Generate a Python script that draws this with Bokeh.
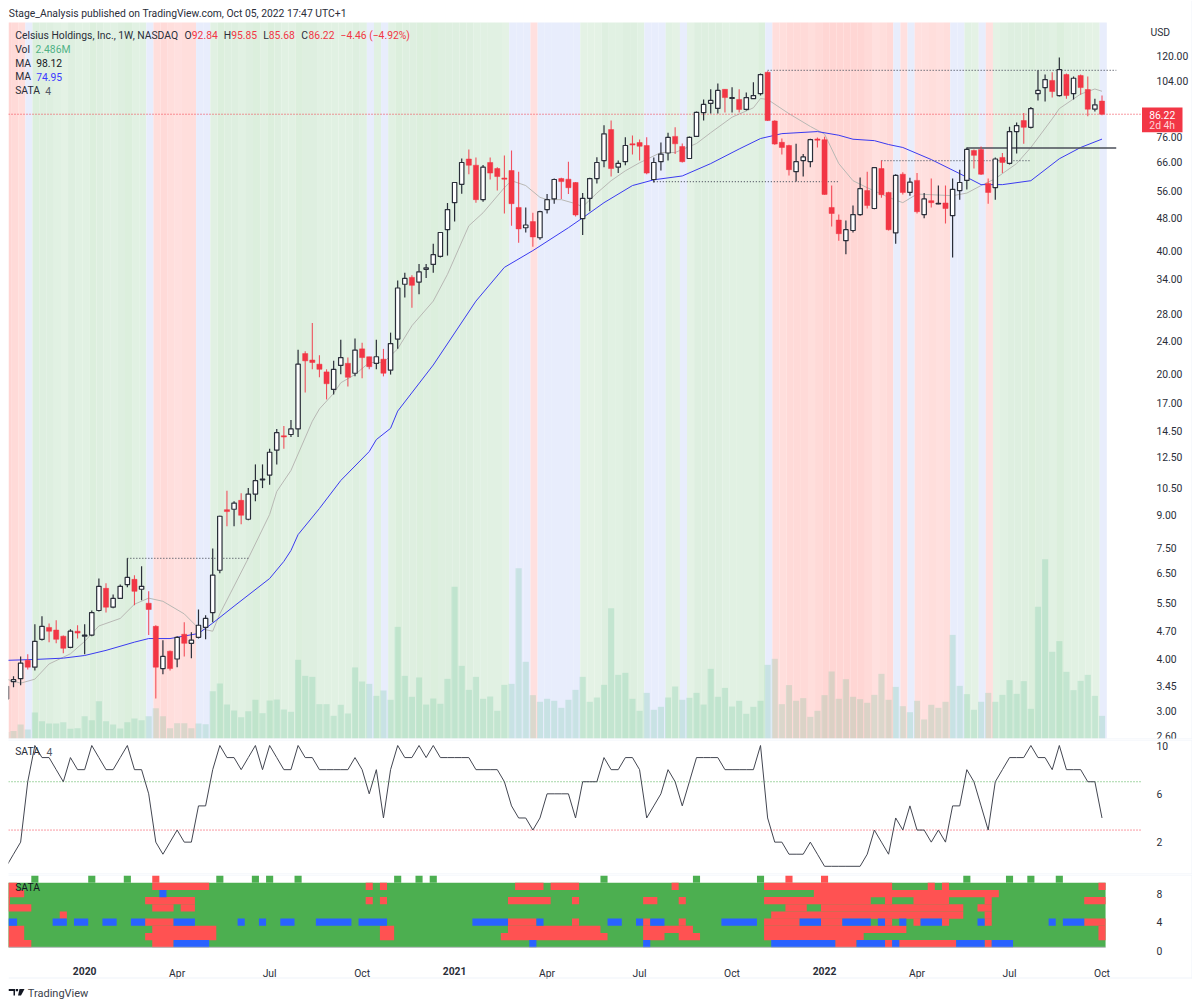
from bokeh.embed import file_html
from bokeh.resources import INLINE
from bokeh.layouts import column
from bokeh.plotting import figure
from bokeh.models import (Range1d, LinearScale, LinearAxis, FixedTicker, PrintfTickFormatter, Label,
                          BoxAnnotation, PolyAnnotation)

# ---------- chart values ----------
opens = [3.20,3.53,3.59,3.98,3.83,4.48,4.79,4.72,4.56,4.28,
 4.69,4.56,4.59,5.27,5.97,5.37,5.64,6.10,6.28,5.94,
 5.49,4.82,3.80,4.19,4.01,4.61,4.38,4.53,4.79,5.21,
 6.61,9.30,9.32,9.80,8.81,10.15,11.0,11.3,13.0,14.1,
 14.2,14.65,22.4,21.6,21.1,20.2,18.3,20.95,21.2,20.05,
 23.0,22.0,21.2,21.7,20.4,24.3,33.1,34.4,33.5,36.0,
 37.0,38.7,45.0,52.4,58.1,67.0,64.7,53.3,65.7,63.5,
 60.2,62.8,51.0,45.5,47.1,43.0,50.4,53.5,60.0,59.8,
 58.7,47.9,53.7,60.0,66.4,79.1,64.0,66.0,73.0,73.5,
 72.3,59.7,66.0,69.3,76.1,71.9,67.2,76.1,87.0,91.7,
 89.1,99.2,94.2,93.7,88.6,94.1,96.8,109.2,83.0,73.6,
 72.3,62.4,66.4,66.0,75.0,74.7,51.0,47.5,42.3,44.8,
 49.0,56.1,50.7,63.5,55.5,44.2,61.5,55.5,59.4,49.0,
 53.0,52.0,52.3,48.7,56.1,59.4,70.3,70.7,58.4,57.0,
 67.6,65.4,78.2,83.2,80.1,96.8,100.2,104.3,95.8,107.8,
 96.8,107.2,99.1,88.7,92.84]
highs = [3.53,3.64,4.07,4.12,4.88,5.10,4.90,4.99,4.58,4.74,
 4.85,4.88,5.27,6.31,6.14,5.77,6.10,7.07,6.43,6.76,
 5.87,4.85,4.46,4.21,4.56,4.93,4.66,5.30,5.13,7.47,
 8.98,10.35,9.75,10.2,10.5,12.0,12.0,13.1,14.65,14.9,
 15.4,22.9,22.7,26.6,22.2,20.5,21.5,24.2,21.9,24.4,
 23.8,22.0,24.2,23.0,25.2,33.8,35.3,34.8,37.1,37.1,
 41.6,44.4,52.3,58.9,67.2,70.7,67.6,64.8,67.6,64.0,
 68.3,70.3,62.4,51.0,49.5,50.1,55.0,60.0,60.3,66.0,
 58.9,55.3,60.3,67.7,81.0,83.2,66.4,75.7,76.5,74.8,
 75.7,67.6,73.5,77.7,80.1,73.1,76.1,87.6,93.7,99.2,
 102.5,99.3,100.4,99.2,97.5,103.2,108.4,109.8,83.4,75.2,
 72.6,73.0,68.9,75.1,75.6,75.9,57.7,49.0,47.4,51.6,
 60.4,62.4,64.0,66.4,55.7,61.5,62.2,60.3,61.9,55.3,
 60.0,57.7,57.7,60.0,63.1,71.5,70.7,71.9,60.0,67.6,
 69.3,80.3,82.3,86.8,89.8,110.4,107.8,109.2,118.7,108.4,
 106.7,107.8,106.7,94.1,95.85]
lows = [3.16,3.42,3.46,3.78,3.76,4.45,4.41,4.38,4.14,4.26,
 4.50,4.12,4.56,5.24,5.21,5.34,5.62,6.01,5.43,5.58,
 4.59,3.21,3.68,3.76,3.83,4.07,4.03,4.50,4.48,4.93,
 6.50,8.47,8.47,8.56,8.76,9.75,10.5,10.7,12.0,13.1,
 14.0,14.0,18.0,20.5,19.6,17.3,17.8,19.95,18.6,19.7,
 19.5,20.5,20.5,19.7,19.9,23.0,30.7,29.0,31.3,34.3,
 35.3,38.5,38.9,47.1,55.1,61.5,52.4,52.7,59.7,56.1,
 49.3,46.0,41.8,44.3,40.9,42.5,49.3,52.1,53.5,55.0,
 48.5,43.7,49.9,58.4,64.0,60.7,61.9,64.7,68.7,66.4,
 61.5,58.7,62.8,66.4,68.9,65.7,67.0,76.1,83.2,86.6,
 86.6,87.1,87.1,87.1,88.1,94.0,95.8,83.0,72.6,68.7,
 61.1,59.0,60.7,64.0,71.5,54.8,45.8,42.3,39.2,44.3,
 48.7,50.7,50.5,53.9,44.8,41.6,54.9,54.5,49.3,48.0,
 51.0,51.9,46.6,38.5,53.3,56.4,63.5,61.2,52.1,53.3,
 61.9,65.0,69.1,73.0,79.6,93.2,92.6,94.7,95.3,94.1,
 93.7,96.2,85.3,87.6,85.68]
closes = [3.44,3.57,3.92,3.83,4.43,4.82,4.69,4.48,4.26,4.69,
 4.64,4.59,5.21,6.04,5.37,5.64,6.04,6.35,5.87,6.04,
 5.30,3.83,4.07,3.80,4.53,4.38,4.46,4.85,5.04,6.43,
 8.96,9.20,9.65,9.01,10.15,10.95,11.05,12.85,14.35,14.0,
 14.65,21.1,21.5,21.3,20.5,18.9,20.5,21.9,19.6,22.85,
 21.9,20.8,22.0,20.05,23.7,32.4,34.2,32.9,35.5,36.3,
 39.1,44.3,50.4,58.7,65.7,64.7,53.3,64.0,61.9,60.7,
 59.8,52.1,45.2,46.2,43.2,49.8,53.3,59.7,59.0,57.0,
 48.9,53.7,60.0,65.7,77.2,63.5,65.4,72.3,72.5,72.0,
 61.9,65.7,68.9,75.7,73.0,66.0,75.7,87.1,91.1,93.2,
 98.6,94.7,94.7,88.6,94.7,95.8,107.8,83.2,72.9,71.5,
 63.1,66.0,67.8,74.7,74.5,54.9,49.3,44.0,45.0,49.0,
 56.7,51.6,63.8,54.8,45.0,61.1,55.5,58.8,49.8,53.5,
 52.4,52.2,50.7,56.5,58.7,70.7,68.4,61.5,55.5,67.0,
 65.7,78.2,80.9,80.1,89.0,98.6,104.8,98.0,110.9,95.8,
 105.6,100.2,88.7,90.9,86.22]
volumes = [0.70,0.81,1.54,0.99,2.85,1.90,1.65,1.65,1.79,1.06,
 1.13,2.45,2.01,4.10,1.90,1.54,1.10,1.79,2.20,2.01,
 2.45,3.33,2.45,1.13,1.68,1.68,1.13,1.65,1.57,5.20,
 6.04,3.73,3.07,2.34,3.00,4.25,2.78,4.17,4.28,3.18,
 2.93,8.64,6.88,6.77,3.77,3.77,2.49,3.70,2.75,7.80,
 6.26,6.00,4.68,5.27,4.25,12.26,6.88,4.58,6.70,3.73,
 4.39,3.81,6.55,16.65,7.98,5.34,6.77,4.36,4.61,3.04,
 5.89,6.00,18.70,8.42,4.76,4.03,4.36,4.14,3.37,4.25,
 5.34,6.77,4.03,4.50,5.89,14.31,6.99,7.21,4.36,3.04,
 5.01,3.15,3.48,4.50,5.71,4.25,4.47,5.01,3.73,7.65,
 4.58,5.56,3.51,4.14,2.71,3.48,4.14,8.09,8.75,3.77,
 5.86,4.14,4.43,2.38,3.04,4.76,7.36,4.36,6.51,4.58,
 4.32,3.92,4.79,7.10,4.25,5.67,3.55,2.89,4.14,2.09,
 3.70,3.37,4.03,11.38,5.78,4.87,3.15,4.03,5.01,4.03,
 4.79,6.41,4.90,6.30,3.26,14.46,19.69,9.52,10.69,7.32,
 5.31,6.33,6.99,4.68,2.486]
sata = [0,1,2,7,10,9,9,8,7,9, 8,8,10,9,8,8,9,10,8,8,
 6,2,1,2,3,2,2,5,5,8, 10,9,9,8,9,10,8,10,9,8,
 8,10,9,9,8,8,8,8,8,9, 8,6,8,4,8,10,9,9,10,9,
 10,9,9,9,9,9,8,8,8,8, 7,5,4,4,3,4,6,6,6,6,
 4,7,7,7,9,8,8,9,9,8, 4,5,6,8,7,5,7,9,9,9,
 9,8,8,8,8,8,10,4,2,2, 1,1,1,2,1,0,0,0,0,0,
 0,1,3,2,1,4,3,5,3,3, 2,3,2,5,5,8,7,5,3,7,
 8,9,9,9,10,9,9,8,10,8, 8,8,7,7,4]

ma10_bars = [0,2,4,6,9,11,13,16,18,20,22,25,27,29,30,34,37,38,40,43,44,46,47,49,51,53,55,57,60,62,65,67,70,71,73,75,76,78,80,81,83,85,87,89,92,94,97,99,102,105,106,107,110,113,115,117,119,121,122,124,126,128,131,133,135,137,139,142,144,147,148,151,153,154]
ma10_vals = [3.58,3.50,3.58,3.90,4.13,4.43,4.83,5.04,5.46,5.65,5.55,5.17,4.77,4.69,5.17,7.07,9.05,10.3,11.6,15.3,16.4,17.9,19.0,19.9,21.3,21.3,23.0,26.2,30.1,35.0,46.0,49.5,57.0,59.3,57.7,54.0,53.3,53.3,52.1,51.2,55.3,59.3,62.7,65.6,69.5,69.5,73.1,77.7,84.8,89.4,94.2,93.7,86.5,80.5,77.1,65.3,59.3,57.0,56.0,54.0,52.4,55.0,54.7,54.5,55.3,57.7,60.0,65.3,71.5,84.0,89.0,96.6,99.4,98.12]
ma30_bars = [0,4,8,11,14,18,20,23,27,29,32,37,39,40,41,44,47,51,52,54,55,60,66,70,74,79,81,84,88,91,95,99,103,106,109,114,117,119,122,124,126,130,134,137,140,144,148,151,154]
ma30_vals = [3.98,4.00,4.03,4.09,4.21,4.41,4.50,4.50,4.63,4.91,5.40,6.31,6.95,7.39,8.08,9.36,10.96,12.9,13.8,14.7,16.2,21.0,30.1,36.4,40.0,45.5,48.1,52.4,57.7,59.6,60.9,65.3,70.9,75.2,77.3,78.2,76.6,74.9,74.3,72.7,71.5,66.8,61.7,58.0,58.0,59.3,67.1,71.5,74.95]

# stage background: (stage, number of bars)
stage_runs = [("R",3),("B",1),("G",16),("B",1),("R",6),("B",2),("G",22),("B",1),("G",1),("B",1),
              ("G",17),("B",3),("R",1),("B",6),("G",9),("B",3),("G",2),("B",1),("G",11),("B",1),
              ("R",17),("B",1),("R",1),("B",1),("R",5),("B",2),("G",2),("B",1),("R",1),("G",15),("B",1)]

# drawn horizontal levels: (first bar, last bar, price)
dotted_levels = [(17,34,7.07),(107,156,110.4),(91,117,59.0),(123,144,66.4)]
solid_levels = [(135,156,71.3)]
last_close = 86.22

# SATA rows: inclusive bar runs per condition row
row10_green = [4,12,17,30,35,37,41,55,58,60,84,97,106,135,141,144,148]
row10_red = [21,110,115]
rows_red = {
 9:[(0,1),(21,28),(51,51),(53,53),(72,75),(77,80),(94,94),(107,124),(130,130),(132,132),(154,154)],
 8:[(0,2),(114,139)],
 7:[(0,0),(20,26),(51,51),(53,53),(71,76),(80,80),(90,91),(95,95),(107,121),(124,124),(128,132),(138,138),(152,154)],
 6:[(0,3),(21,23),(25,26),(110,112),(115,134),(137,138)],
 5:[(8,8),(108,134),(138,138)],
 4:[(20,23),(71,74),(80,80),(90,90),(95,95),(107,111),(115,117),(124,124),(128,128),(132,132),(138,138),(152,154)],
 3:[(0,2),(21,29),(53,54),(71,83),(90,96),(107,126),(154,154)],
 2:[(0,2),(20,29),(53,54),(70,84),(90,92),(95,97),(107,120),(154,154)],
 1:[(0,3),(21,23),(117,119),(124,124),(126,133),(138,138)],
}
rows_blue = {
 8:[(22,22)],
 4:[(0,1),(7,8),(10,11),(14,15),(18,19),(24,26),(33,33),(36,36),(39,40),(44,48),(50,53),(66,70),(75,75),(85,86),(89,89),(91,92),(101,105),(112,114),(118,121),(123,123),(126,126),(129,131),(137,137),(147,147),(149,151)],
 1:[(24,28),(74,74),(90,90),(108,116),(120,123),(125,125),(134,137),(139,141)],
}

price_ticks = [2.6,3,3.45,4,4.7,5.5,6.5,7.5,9,10.5,12.5,14.5,17,20,24,28,34,40,48,56,66,76,104,120]
sata_ticks = [2,6,10]
rows_ticks = [0,4,8]
month_ticks = {24:"Apr",37:"Jul",50:"Oct",76:"Apr",89:"Jul",102:"Oct",128:"Apr",141:"Jul",154:"Oct"}
year_ticks = {11:"2020",63:"2021",115:"2022"}

# ---------- styling ----------
FONT = "Roboto"
FS = 10.35
INK = "#2a2e39"
UP_LINE = "#2a2e39"
RED = "#f23645"
GREEN = "#4caf50"
SATA_RED = "#ff5252"
SATA_BLUE = "#2962ff"
SEP = "#f0f3fa"
W = 1192
X_RANGE = (0.295, 166.72)   # the frame holds the price scale as well
SCALE_X = 159.54            # where the price scale starts
PANE_END = 154.5

bars = list(range(len(closes)))
stage = [s for s, n in stage_runs for _ in range(n)]

def band_color(s, v):
    if s == "B":
        return "#e8edfc"
    if s == "R":
        return {0:"#ffd6d4",1:"#ffdad8",2:"#ffdedc",3:"#ffe0df"}.get(v, "#ffe3e2")
    return {10:"#dcefdd",9:"#deefe0",8:"#e1f1e3",7:"#e4f2e5"}.get(v, "#e6f3e7")

def style_axis(ax, standoff, style="normal"):
    ax.axis_line_color = None
    ax.major_tick_line_color = None
    ax.minor_tick_line_color = None
    ax.major_label_text_font = FONT
    ax.major_label_text_font_size = f"{FS}px"
    ax.major_label_text_font_style = style
    ax.major_label_text_color = INK
    ax.major_label_standoff = standoff

def make_fig(height, y_range, **kw):
    p = figure(width=W, height=height, x_range=Range1d(*X_RANGE), y_range=y_range,
               output_backend="svg", toolbar_location=None, y_axis_location="right",
               min_border_left=8, min_border_right=0, min_border_top=0, min_border_bottom=0, **kw)
    p.outline_line_color = None
    p.grid.visible = False
    p.xaxis.visible = False
    p.yaxis[0].fixed_location = SCALE_X
    style_axis(p.yaxis[0], 9)
    return p

def txt(p, x, y, text, color=INK, size=FS, style="normal", align="left", level="annotation"):
    p.add_layout(Label(x=x, y=y, x_units="canvas", y_units="canvas", text=text, text_color=color,
                       text_font=FONT, text_font_size=f"{size}px", text_font_style=style,
                       text_align=align, text_baseline="middle", level=level))

def rule(p, left, right, top, bottom, color=SEP):
    p.add_layout(BoxAnnotation(left=left, right=right, top=top, bottom=bottom, left_units="canvas",
                               right_units="canvas", top_units="canvas", bottom_units="canvas",
                               fill_color=color, fill_alpha=1, line_color=None, level="overlay"))

# ---------- price pane ----------
P_LOW, P_HIGH = 2.563, 144.5
p1 = make_fig(739, Range1d(2.5486, 163.6), y_axis_type="log")
p1.yaxis[0].ticker = FixedTicker(ticks=price_ticks)
p1.yaxis[0].formatter = PrintfTickFormatter(format="%.2f")
p1.extra_y_ranges = {"vol": Range1d(-0.11, 81.04)}
p1.extra_y_scales = {"vol": LinearScale()}

p1.vbar(x=[i + 0.17 for i in bars], width=1.01, bottom=P_LOW, top=P_HIGH,
        fill_color=[band_color(s, v) for s, v in zip(stage, sata)], line_color=None)
p1.vbar(x=bars, width=0.86, bottom=0, top=volumes, y_range_name="vol",
        fill_color="#4dbb89", fill_alpha=0.2, line_color=None)

p1.line(ma10_bars, ma10_vals, line_color="#b8b8b4", line_width=1)
p1.line(ma30_bars, ma30_vals, line_color="#3a3af0", line_width=1)

for a, b, v in dotted_levels:
    p1.line([a, b], [v, v], line_color="#555a66", line_width=1.2, line_dash=[1, 2])
for a, b, v in solid_levels:
    p1.line([a, b], [v, v], line_color="#4a4e59", line_width=1.4)
p1.line([X_RANGE[0], SCALE_X], [last_close, last_close], line_color=RED, line_width=1, line_dash=[1, 2])

up = [i for i in bars if closes[i] >= opens[i]]
dn = [i for i in bars if closes[i] < opens[i]]
p1.segment(x0=dn, x1=dn, y0=[lows[i] for i in dn], y1=[highs[i] for i in dn], line_color=RED, line_width=1.1, line_alpha=0.85)
p1.segment(x0=up, x1=up, y0=[lows[i] for i in up], y1=[highs[i] for i in up], line_color=UP_LINE, line_width=1.2)
p1.vbar(x=dn, width=0.72, bottom=[closes[i] for i in dn], top=[opens[i] for i in dn],
        fill_color=RED, line_color=RED, line_width=0.5)
p1.vbar(x=up, width=0.62, bottom=[opens[i] for i in up], top=[closes[i] for i in up],
        fill_color="#ffffff", line_color=UP_LINE, line_width=1.2)

txt(p1, 8.3, 13, "Stage_Analysis published on TradingView.com, Oct 05, 2022 17:47 UTC+1")
for x, t, c in [(14.7, "Celsius Holdings, Inc., 1W, NASDAQ", INK), (184, "O", INK), (191.3, "92.84", RED),
                (223.3, "H", INK), (230.7, "95.85", RED), (262.7, "L", INK), (268.3, "85.68", RED),
                (300.7, "C", INK), (308, "86.22", RED), (340, "\u22124.46 (\u22124.92%)", RED)]:
    txt(p1, x, 34.7, t, c)
txt(p1, 14.7, 48.7, "Vol"); txt(p1, 35, 48.7, "2.486M", "#4fb286")
txt(p1, 14.7, 62.7, "MA"); txt(p1, 35.7, 62.7, "98.12", "#131722")
txt(p1, 14.7, 76, "MA"); txt(p1, 35.7, 76, "74.95", "#3b3bff")
txt(p1, 14.7, 90, "SATA"); txt(p1, 44.7, 90, "4", "#555a66")
txt(p1, 1150, 32, "USD")
rule(p1, 1141.5, 1182, 131.7, 107, RED)
txt(p1, 1161.7, 114.5, "86.22", "#ffffff", align="center", level="overlay")
txt(p1, 1161.7, 125, "2d 4h", "#ffd5d8", align="center", level="overlay")
rule(p1, 0, W, 739, 738)
rule(p1, W - 1, W, 739, 0)

# ---------- SATA line pane ----------
p2 = make_fig(135, Range1d(-0.679, 10.497))
p2.yaxis[0].ticker = FixedTicker(ticks=sata_ticks)
p2.line([X_RANGE[0], SCALE_X], [7, 7], line_color=GREEN, line_width=1, line_dash=[1, 2])
p2.line([X_RANGE[0], SCALE_X], [3, 3], line_color=RED, line_width=1, line_dash=[1, 2])
p2.line(bars, sata, line_color="#434651", line_width=1)
txt(p2, 14.7, 12, "SATA"); txt(p2, 46, 12, "4", "#555a66")
rule(p2, 0, W, 1, 0)
rule(p2, 0, W, 135, 134)
rule(p2, W - 1, W, 135, 0)

# ---------- SATA heat pane ----------
p3 = make_fig(130, Range1d(-7.476, 10.655))
p3.yaxis[0].ticker = FixedTicker(ticks=rows_ticks)
p3.quad(left=[-0.5], right=[PANE_END], bottom=[0.5], top=[9.5], fill_color=GREEN, line_color=None)
for runs, color in ((rows_red, SATA_RED), (rows_blue, SATA_BLUE)):
    ys, ls, rs = [], [], []
    for r, spans in runs.items():
        for a, b in spans:
            ys.append(r); ls.append(a - 0.5); rs.append(b + 0.5)
    p3.hbar(y=ys, height=1.02, left=ls, right=rs, fill_color=color, line_color=None)
p3.vbar(x=row10_green, width=1, bottom=9.5, top=10.5, fill_color=GREEN, line_color=None)
p3.vbar(x=row10_red, width=1, bottom=9.5, top=10.5, fill_color=SATA_RED, line_color=None)
p3.line([X_RANGE[0], PANE_END], [0.5, 0.5], line_color="#b6b9bf", line_width=1)

AXIS_Y = -0.64
ax = p3.xaxis[0]
ax.visible = True
ax.fixed_location = AXIS_Y
ax.ticker = FixedTicker(ticks=list(month_ticks))
ax.major_label_overrides = month_ticks
style_axis(ax, 6)
year_axis = LinearAxis(fixed_location=AXIS_Y, ticker=FixedTicker(ticks=list(year_ticks)),
                       major_label_overrides=year_ticks)
style_axis(year_axis, 6, "bold")
p3.add_layout(year_axis, "below")

txt(p3, 14.7, 13, "SATA", "#131722")
rule(p3, 0, W, 1, 0)
rule(p3, 8, W, 104, 103)
rule(p3, W - 1, W, 104, 0)

# TradingView mark and wordmark
for xs, ys in [([8, 14.5, 14.5, 13, 13, 11.5, 11.5, 8], [114.5, 114.5, 121, 121, 116.6, 116.6, 116.6, 116.6]),
               ([19, 24, 20.5, 17.5], [114.5, 114.5, 121, 121]),
               ([15.2, 17.6, 17.6, 15.2], [114.5, 114.5, 116.8, 116.8])]:
    p3.add_layout(PolyAnnotation(xs=xs, ys=ys, xs_units="canvas", ys_units="canvas",
                                 fill_color="#131722", fill_alpha=1, line_color=None))
txt(p3, 27.3, 118.5, "TradingView", "#3a3e4a", size=11)

open("out.html", "w").write(file_html(column(p1, p2, p3, spacing=0), INLINE))
